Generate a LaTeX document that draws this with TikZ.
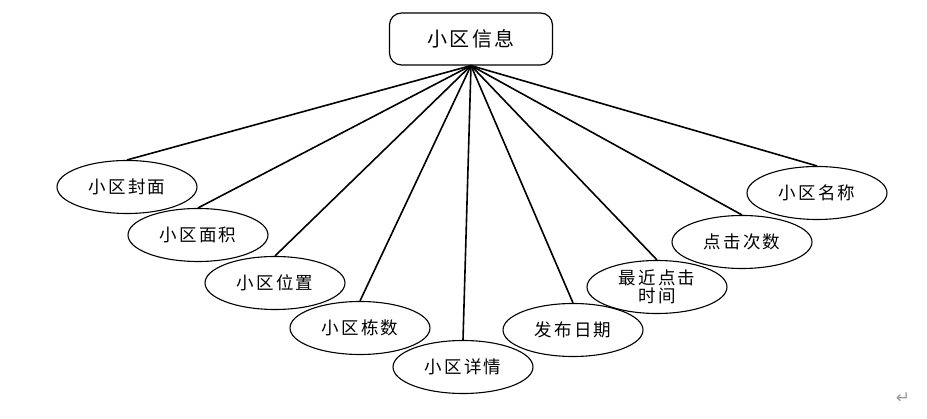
\documentclass[tikz,border=0pt]{standalone}
\usepackage{fontspec}
\setmainfont{Noto Sans CJK SC}
\newfontfamily\cjkwide[LetterSpace=12]{Noto Sans CJK SC}
\newfontfamily\symfont{DejaVu Sans}
\usetikzlibrary{shapes.geometric}
\definecolor{cline}{HTML}{000000}
\definecolor{cmark}{HTML}{9A9A9A}
\tikzset{
  every picture/.style={line width=1.2pt},
  rootbox/.style={draw=cline, fill=white, rounded corners=12pt, minimum width=163pt, minimum height=52pt, inner sep=0pt, font=\cjkwide\fontsize{20}{24}\selectfont},
  attr/.style={ellipse, draw=cline, line width=1.1pt, minimum width=140pt, minimum height=53pt, inner sep=0pt, align=center, font=\cjkwide\fontsize{17.5}{21}\selectfont},
  link/.style={draw=cline, line width=1.6pt},
}
\begin{document}
\begin{tikzpicture}[x=1pt, y=-1pt]
  \useasboundingbox (0,0) rectangle (927,419);
  % the entity and its attributes
  \node[rootbox] (info) at (471,39) {小区信息};
  \node[attr] (cover) at (127,187) {小区封面};
  \node[attr] (area)  at (198,235) {小区面积};
  \node[attr] (place) at (275,283) {小区位置};
  \node[attr] (bldg)  at (360,328) {小区栋数};
  \node[attr] (detail) at (463,367) {小区详情};
  \node[attr] (pub)   at (573,330) {发布日期};
  \node[attr] (last)  at (657,287) {最近点击\\[-3pt]时间};
  \node[attr] (hits)  at (742,242) {点击次数};
  \node[attr] (name)  at (817,193) {小区名称};
  % connectors from the box to every attribute
  \foreach \a in {cover, area, place, bldg, detail, pub, last, hits, name}
    \draw[link] (info.south) -- (\a.north);
  \node[text=cmark, font=\symfont\fontsize{17}{19}\selectfont] (ret) at (903,398) {↵};
\end{tikzpicture}
\end{document}
